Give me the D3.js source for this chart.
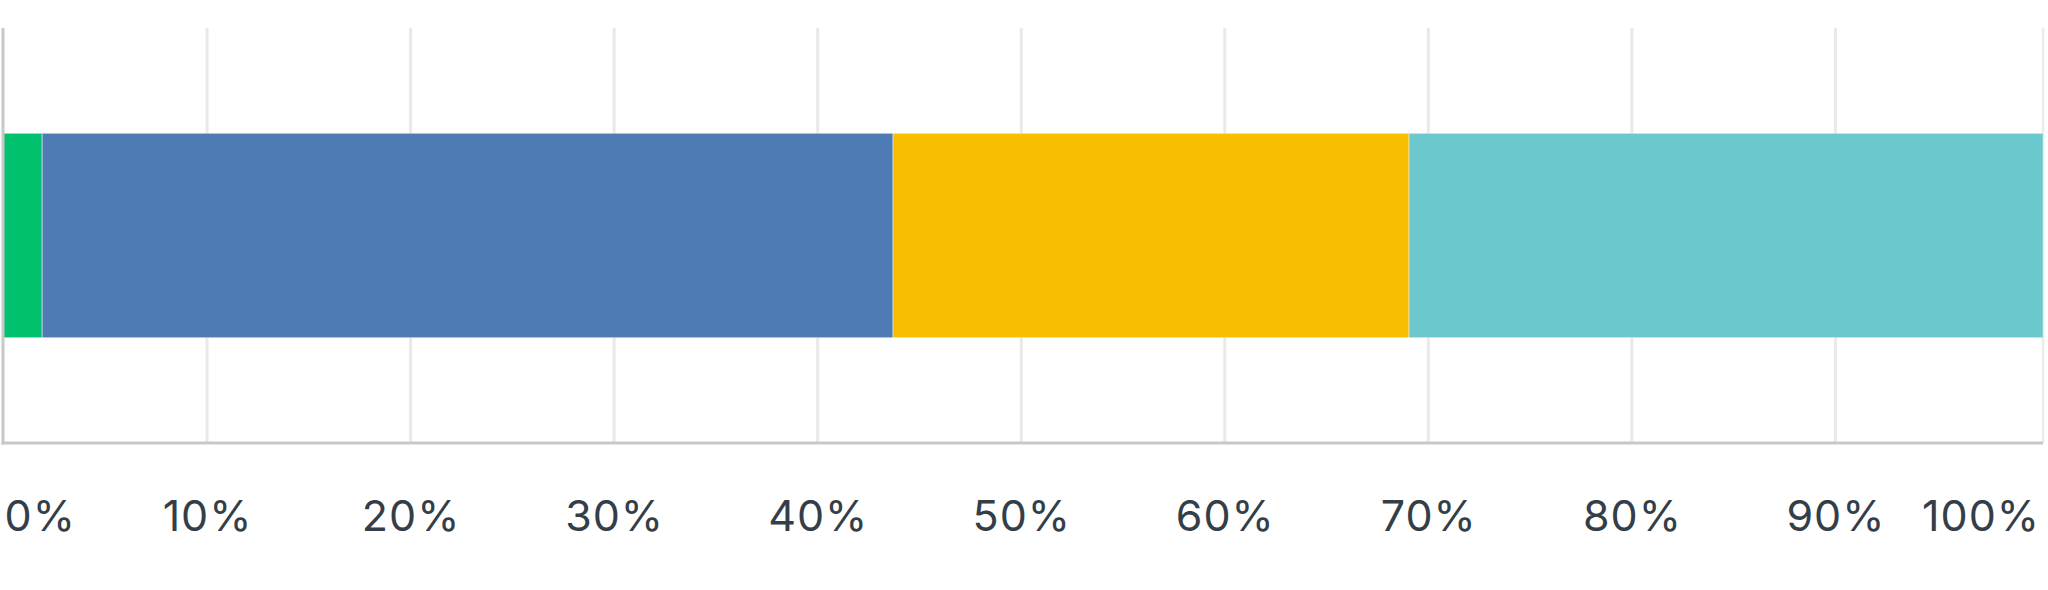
<!DOCTYPE html>
<html>
<head>
<meta charset="utf-8">
<script src="https://cdn.jsdelivr.net/npm/d3@7"></script>
<style>
  body { margin: 0; background: #fff; }
  .tick-label { font-family: Inter, "Noto Sans", sans-serif; font-size: 43px; letter-spacing: 1px; fill: #333e48; }
</style>
</head>
<body>
<div id="chart"></div>
<script>
// data (percent of total)
var categories = ["All"];
var seriesNames = ["A", "B", "C", "D"];
var seriesValues = [1.9, 41.8, 25.35, 31.15];
var seriesColors = ["#00c16e", "#4e7bb3", "#f8bf00", "#6bc8cc"];
var tickValues = [0, 10, 20, 30, 40, 50, 60, 70, 80, 90, 100];
var tickLabels = ["0%", "10%", "20%", "30%", "40%", "50%", "60%", "70%", "80%", "90%", "100%"];

var svgWidth = 2048;
var svgHeight = 590;

var margin = { top: 28, left: 3.5 };
var plotBottom = 443;

var svg = d3.select("#chart")
    .append("svg")
    .attr("width", svgWidth)
    .attr("height", svgHeight);

var xScale = d3.scaleLinear()
    .domain([0, 100])
    .range([margin.left, 2039]);

var yScale = d3.scaleBand()
    .domain(categories)
    .range([margin.top, plotBottom])
    .padding(0.34);

var total = d3.sum(seriesValues);
var plotRight = xScale(total);

// stack the segments
var segments = [];
var acc = 0;
seriesValues.forEach(function(v, i) {
    segments.push({ name: seriesNames[i], x0: acc, x1: acc + v, color: seriesColors[i] });
    acc += v;
});

// gridlines
svg.append("g")
    .selectAll("line")
    .data(tickValues.slice(1, -1))
    .enter()
    .append("line")
    .attr("x1", d => xScale(d))
    .attr("x2", d => xScale(d))
    .attr("y1", margin.top)
    .attr("y2", plotBottom)
    .attr("stroke", "#e9e9e9")
    .attr("stroke-width", 3);

// right edge of plot
svg.append("line")
    .attr("x1", plotRight)
    .attr("x2", plotRight)
    .attr("y1", margin.top)
    .attr("y2", plotBottom)
    .attr("stroke", "#ebebeb")
    .attr("stroke-width", 2.5);

// bars
svg.append("g")
    .selectAll("rect")
    .data(segments)
    .enter()
    .append("rect")
    .attr("x", d => xScale(d.x0))
    .attr("width", d => xScale(d.x1) - xScale(d.x0))
    .attr("y", yScale(categories[0]))
    .attr("height", yScale.bandwidth())
    .attr("fill", d => d.color)
    .attr("stroke", "rgba(255,255,255,0.45)")
    .attr("stroke-width", 1);

// axis lines
svg.append("line")
    .attr("x1", margin.left - 0.5)
    .attr("x2", margin.left - 0.5)
    .attr("y1", margin.top)
    .attr("y2", plotBottom + 1.5)
    .attr("stroke", "#c8c8c8")
    .attr("stroke-width", 3);

svg.append("line")
    .attr("x1", margin.left - 2)
    .attr("x2", plotRight)
    .attr("y1", plotBottom)
    .attr("y2", plotBottom)
    .attr("stroke", "#c8c8c8")
    .attr("stroke-width", 3);

// tick labels
svg.append("g")
    .selectAll("text")
    .data(tickValues)
    .enter()
    .append("text")
    .attr("class", "tick-label")
    .attr("x", (d, i) => i === 0 ? xScale(d) + 1 : (i === tickValues.length - 1 ? xScale(d) + 1 : xScale(d) + 0.5))
    .attr("y", 531)
    .attr("text-anchor", (d, i) => i === 0 ? "start" : (i === tickValues.length - 1 ? "end" : "middle"))
    .text((d, i) => tickLabels[i]);
</script>
</body>
</html>
